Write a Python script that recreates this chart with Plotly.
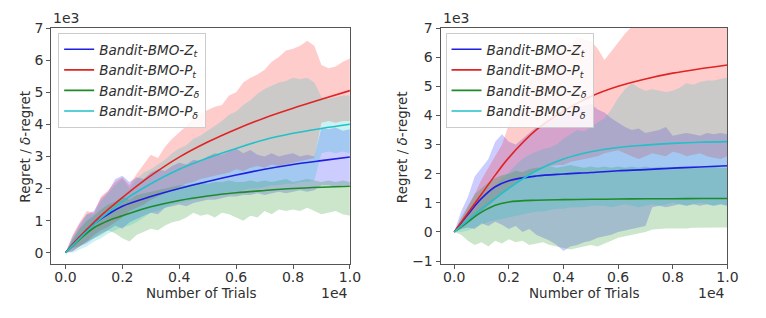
import plotly.graph_objects as go

# x in units of 1e4 trials, y in units of 1e3 regret (as displayed)
MEAN_X = [0.0, 0.05, 0.1, 0.15, 0.2, 0.3, 0.4, 0.5, 0.6, 0.7, 0.8, 0.9, 1.0]
BAND_X = [0.0, 0.025, 0.05, 0.075, 0.1, 0.125, 0.15, 0.175, 0.2, 0.225, 0.25, 0.275, 0.3, 0.325,
          0.35, 0.375, 0.4, 0.425, 0.45, 0.475, 0.5, 0.525, 0.55, 0.575, 0.6, 0.625, 0.65, 0.675,
          0.7, 0.725, 0.75, 0.775, 0.8, 0.825, 0.85, 0.875, 0.9, 0.925, 0.95, 0.975, 1.0]

SERIES_NAMES = ["<i>Bandit-BMO-Z<sub>t</sub></i>", "<i>Bandit-BMO-P<sub>t</sub></i>",
                "<i>Bandit-BMO-Z<sub>δ</sub></i>", "<i>Bandit-BMO-P<sub>δ</sub></i>"]
LINE_COLORS = ["#1f1fe0", "#e02424", "#1f8a2a", "#22c0c8"]
FILL_COLORS = ["rgba(0,0,255,0.2)", "rgba(255,0,0,0.2)", "rgba(0,128,0,0.2)", "rgba(0,191,191,0.2)"]

X_TICKS = [0.0, 0.2, 0.4, 0.6, 0.8, 1.0]
X_TICK_LABELS = ["0.0", "0.2", "0.4", "0.6", "0.8", "1.0"]
Y_TICKS_LEFT = [0, 1, 2, 3, 4, 5, 6, 7]
Y_TICKS_RIGHT = [-1, 0, 1, 2, 3, 4, 5, 6, 7]

# ---------------- left panel ----------------
L_BLUE_MEAN = [0, 0.5, 0.9, 1.2, 1.45, 1.75, 2.0, 2.22, 2.42, 2.6, 2.75, 2.87, 2.98]
L_RED_MEAN = [0, 0.5, 0.95, 1.35, 1.72, 2.4, 2.98, 3.45, 3.85, 4.2, 4.5, 4.78, 5.05]
L_GREEN_MEAN = [0, 0.42, 0.78, 1.0, 1.15, 1.43, 1.63, 1.77, 1.87, 1.94, 2.0, 2.04, 2.07]
L_CYAN_MEAN = [0, 0.45, 0.88, 1.25, 1.6, 2.15, 2.6, 2.95, 3.25, 3.52, 3.72, 3.87, 4.0]

L_BLUE_HI = [0, 0.5, 0.9, 1.2, 1.3, 1.7, 1.9, 2.3, 2.4, 2.2, 2.35, 2.3, 2.5, 2.6, 2.55, 2.7, 2.8, 2.75,
             2.9, 2.85, 3.0, 3.1, 3.05, 3.15, 3.25, 3.1, 3.2, 3.05, 3.0, 3.1, 3.0, 3.05, 3.1, 3.0, 3.05,
             3.0, 3.9, 3.85, 3.9, 3.8, 3.85]
L_BLUE_LO = [0, 0.05, 0.2, 0.3, 0.45, 0.6, 0.7, 0.85, 0.75, 0.95, 1.05, 1.15, 1.25, 1.2, 1.4, 1.45, 1.5,
             1.45, 1.55, 1.6, 1.65, 1.65, 1.7, 1.75, 1.75, 1.8, 1.8, 1.85, 1.8, 1.85, 1.9, 1.85, 1.9,
             1.95, 1.9, 1.95, 2.1, 2.1, 2.05, 2.1, 2.1]
L_RED_HI = [0, 0.55, 0.95, 1.3, 1.25, 1.75, 1.95, 2.2, 2.35, 2.1, 2.45, 2.75, 3.05, 2.95, 3.3, 3.55, 3.75,
            3.95, 4.2, 4.35, 4.45, 4.55, 4.6, 4.9, 5.0, 5.3, 5.45, 5.55, 5.7, 5.95, 6.1, 6.3, 6.35, 6.45,
            6.6, 6.45, 5.85, 5.75, 5.8, 5.95, 6.05]
L_RED_LO = [0, 0.05, 0.2, 0.35, 0.55, 0.7, 0.8, 0.95, 1.1, 1.3, 1.4, 1.5, 1.65, 1.75, 1.85, 1.95, 2.05,
            2.15, 2.2, 2.3, 2.35, 2.4, 2.45, 2.5, 2.6, 2.55, 2.65, 2.7, 2.65, 2.75, 2.7, 2.75, 2.8, 2.85,
            2.9, 2.95, 4.05, 4.1, 4.05, 4.1, 4.1]
L_GREEN_HI = [0, 0.4, 0.75, 1.0, 1.15, 1.35, 1.5, 1.6, 1.75, 1.65, 1.8, 1.85, 1.9, 1.95, 2.0, 2.05, 2.1,
              2.1, 2.15, 2.2, 2.15, 2.2, 2.2, 2.25, 2.2, 2.2, 2.25, 2.2, 2.25, 2.2, 2.25, 2.3, 2.2, 2.25,
              2.3, 2.25, 2.2, 2.25, 2.2, 2.25, 2.2]
L_GREEN_LO = [0, 0.15, 0.2, 0.35, 0.45, 0.55, 0.7, 0.6, 0.45, 0.35, 0.55, 0.65, 0.75, 0.7, 0.85, 0.95,
              1.0, 1.1, 1.25, 1.15, 1.2, 1.1, 1.25, 1.2, 1.1, 1.0, 1.15, 1.1, 1.3, 1.2, 1.35, 1.3, 1.35,
              1.3, 1.4, 1.3, 1.2, 1.25, 1.3, 1.2, 1.15]
L_CYAN_HI = [0, 0.45, 0.8, 1.2, 1.2, 1.6, 1.85, 2.1, 2.3, 2.0, 2.3, 2.5, 2.6, 2.75, 2.9, 3.1, 3.25, 3.35,
             3.55, 3.65, 3.8, 3.95, 4.1, 4.3, 4.4, 4.6, 4.75, 4.95, 5.1, 5.2, 5.3, 5.35, 5.45, 5.4, 5.45,
             5.3, 4.85, 4.8, 4.85, 4.9, 4.9]
L_CYAN_LO = [0, 0.0, 0.1, 0.2, 0.35, 0.45, 0.6, 0.7, 0.8, 0.85, 0.95, 1.1, 1.25, 1.3, 1.4, 1.5, 1.55,
             1.6, 1.65, 1.7, 1.75, 1.8, 1.85, 1.9, 1.9, 1.95, 2.0, 2.0, 2.05, 2.1, 2.1, 2.15, 2.15, 2.2,
             2.2, 2.25, 3.1, 3.15, 3.1, 3.15, 3.1]

# ---------------- right panel ----------------
R_BLUE_MEAN = [0, 0.6, 1.15, 1.55, 1.76, 1.92, 1.99, 2.04, 2.1, 2.14, 2.19, 2.23, 2.27]
R_RED_MEAN = [0, 0.65, 1.3, 1.95, 2.55, 3.5, 4.15, 4.65, 5.0, 5.25, 5.45, 5.6, 5.73]
R_GREEN_MEAN = [0, 0.35, 0.68, 0.92, 1.03, 1.09, 1.11, 1.12, 1.13, 1.14, 1.14, 1.15, 1.15]
R_CYAN_MEAN = [0, 0.4, 0.8, 1.15, 1.5, 2.1, 2.5, 2.75, 2.9, 2.98, 3.04, 3.08, 3.1]

R_BLUE_HI = [0, 0.7, 1.2, 1.9, 2.2, 2.5, 3.1, 3.35, 3.1, 3.0, 3.2, 3.4, 3.6, 3.7, 3.85, 3.9, 4.0, 4.1,
             4.3, 4.35, 4.4, 4.2, 4.1, 3.9, 3.75, 3.6, 3.5, 3.55, 3.4, 3.45, 3.5, 3.6, 3.3, 3.35, 3.4,
             3.35, 3.3, 3.4, 3.35, 3.4, 3.35]
R_BLUE_LO = [0, 0.1, 0.15, 0.1, 0.3, 0.2, 0.35, 0.25, 0.1, 0.2, 0.0, 0.1, -0.1, -0.2, -0.3, -0.45, -0.65,
             -0.5, -0.45, -0.35, -0.3, -0.2, -0.15, -0.1, 0.0, 0.05, 0.1, 0.15, 0.2, 0.85, 0.9, 0.85,
             0.9, 0.95, 0.9, 0.95, 0.9, 0.95, 0.9, 0.95, 0.9]
R_RED_HI = [0, 0.4, 0.85, 1.3, 1.8, 2.2, 2.6, 3.0, 3.7, 4.2, 4.7, 5.1, 5.5, 5.9, 6.1, 6.3, 6.5, 6.4, 6.7,
            6.6, 6.55, 6.3, 5.9, 6.2, 6.5, 6.8, 7.05, 7.2, 7.4, 7.5, 7.6, 7.7, 7.8, 7.9, 7.95, 8.0, 8.1,
            8.1, 8.2, 8.2, 8.3]
R_RED_LO = [0, 0.1, 0.3, 0.5, 0.7, 0.9, 1.1, 1.3, 1.5, 1.7, 1.85, 1.95, 2.1, 2.2, 2.25, 2.3, 2.3, 2.4,
            2.45, 2.5, 2.55, 2.6, 2.7, 2.75, 2.8, 2.7, 2.6, 2.5, 2.6, 2.7, 2.65, 2.6, 2.75, 2.7, 2.6,
            2.65, 2.7, 2.6, 2.55, 2.5, 2.6]
R_GREEN_HI = [0, 0.5, 0.9, 1.3, 1.5, 1.7, 1.85, 1.95, 2.0, 2.1, 2.05, 2.15, 2.2, 2.2, 2.25, 2.2, 2.25,
              2.3, 2.25, 2.2, 2.25, 2.2, 2.25, 2.2, 2.25, 2.2, 2.25, 2.2, 2.25, 2.2, 2.25, 2.2, 2.2,
              2.25, 2.2, 2.25, 2.2, 2.2, 2.25, 2.2, 2.2]
R_GREEN_LO = [0, -0.1, -0.3, -0.45, -0.35, -0.5, -0.3, -0.4, -0.25, -0.35, -0.3, -0.45, -0.4, -0.35,
              -0.45, -0.5, -0.55, -0.6, -0.55, -0.5, -0.45, -0.5, -0.4, -0.3, -0.2, -0.15, -0.1, -0.05,
              0.0, 0.08, 0.1, 0.12, 0.12, 0.13, 0.12, 0.14, 0.13, 0.14, 0.15, 0.15, 0.15]
R_CYAN_HI = [0, 0.3, 0.55, 0.8, 1.1, 1.35, 1.6, 1.85, 2.05, 2.3, 2.5, 2.65, 2.75, 2.85, 2.9, 3.0, 3.2,
             3.35, 3.5, 3.45, 3.6, 3.75, 3.9, 4.2, 4.6, 4.9, 5.1, 4.95, 4.85, 4.9, 4.85, 4.8, 4.85, 4.95,
             5.1, 5.05, 5.15, 5.2, 5.2, 5.25, 5.3]
R_CYAN_LO = [0, 0.0, 0.05, 0.15, 0.25, 0.35, 0.4, 0.45, 0.5, 0.55, 0.6, 0.65, 0.7, 0.7, 0.75, 0.8, 0.8,
             0.85, 0.85, 0.85, 0.9, 0.9, 0.9, 0.85, 0.9, 0.95, 0.9, 0.85, 0.9, 0.95, 0.9, 0.95, 1.0,
             0.95, 0.9, 0.95, 1.0, 0.95, 0.9, 0.95, 0.9]

PANELS = [
    dict(xaxis="x", yaxis="y", legend="legend",
         means=[L_BLUE_MEAN, L_RED_MEAN, L_GREEN_MEAN, L_CYAN_MEAN],
         his=[L_BLUE_HI, L_RED_HI, L_GREEN_HI, L_CYAN_HI],
         los=[L_BLUE_LO, L_RED_LO, L_GREEN_LO, L_CYAN_LO]),
    dict(xaxis="x2", yaxis="y2", legend="legend2",
         means=[R_BLUE_MEAN, R_RED_MEAN, R_GREEN_MEAN, R_CYAN_MEAN],
         his=[R_BLUE_HI, R_RED_HI, R_GREEN_HI, R_CYAN_HI],
         los=[R_BLUE_LO, R_RED_LO, R_GREEN_LO, R_CYAN_LO]),
]

FONT = "DejaVu Sans"
TXT = "#303030"
AX = "#555555"

fig = go.Figure()
for p in PANELS:
    for i in range(4):
        fig.add_trace(go.Scatter(
            x=BAND_X + BAND_X[::-1], y=p["his"][i] + p["los"][i][::-1],
            fill="toself", fillcolor=FILL_COLORS[i], line=dict(width=0),
            mode="lines", showlegend=False, hoverinfo="skip",
            xaxis=p["xaxis"], yaxis=p["yaxis"]))
    for i in range(4):
        fig.add_trace(go.Scatter(
            x=MEAN_X, y=p["means"][i], mode="lines", name=SERIES_NAMES[i],
            line=dict(color=LINE_COLORS[i], width=1.6, shape="spline"),
            xaxis=p["xaxis"], yaxis=p["yaxis"], legend=p["legend"]))

W, H = 766, 318
T, B = 28, 54
PH = H - T - B


def px_x(v):
    return v / W


def px_y(v):
    return (H - B - v) / PH


axis_common = dict(showgrid=False, zeroline=False, showline=True, mirror=True, linecolor=AX,
                   linewidth=1, ticks="outside", ticklen=4, tickcolor=AX, tickwidth=1,
                   tickfont=dict(family=FONT, size=14, color=TXT))
x_extra = dict(ticklabelstandoff=-4)

L_DOM = [px_x(52), px_x(355)]
R_DOM = [px_x(447), px_x(738)]

legend_common = dict(bgcolor="rgba(255,255,255,0.85)", bordercolor="#cccccc", borderwidth=1,
                     font=dict(family=FONT, size=13.5, color=TXT), itemwidth=30,
                     xanchor="left", yanchor="top", tracegroupgap=0)

fig.update_layout(
    width=W, height=H, margin=dict(l=0, r=0, t=T, b=B),
    paper_bgcolor="white", plot_bgcolor="white",
    font=dict(family=FONT, size=13, color=TXT),
    xaxis=dict(domain=L_DOM, range=[-0.05, 1.0], tickvals=X_TICKS, ticktext=X_TICK_LABELS,
               anchor="y", **axis_common, **x_extra),
    yaxis=dict(domain=[0, 1], range=[-0.35, 7], tickvals=Y_TICKS_LEFT, anchor="x", **axis_common),
    xaxis2=dict(domain=R_DOM, range=[-0.05, 1.0], tickvals=X_TICKS, ticktext=X_TICK_LABELS,
                anchor="y2", **axis_common, **x_extra),
    yaxis2=dict(domain=[0, 1], range=[-1.1, 7], tickvals=Y_TICKS_RIGHT, anchor="x2", **axis_common),
    legend=dict(x=px_x(59), y=px_y(33), **legend_common),
    legend2=dict(x=px_x(452), y=px_y(33), **legend_common),
    showlegend=True,
)

annots = []
for dom, ytx in [(L_DOM, 25), (R_DOM, 408)]:
    annots.append(dict(text="1e3", xref="paper", yref="paper", x=dom[0], y=1, xanchor="left",
                       yanchor="bottom", showarrow=False, font=dict(family=FONT, size=14, color=TXT)))
    annots.append(dict(text="1e4", xref="paper", yref="paper", x=dom[1], y=px_y(293),
                       xanchor="right", yanchor="middle", showarrow=False,
                       font=dict(family=FONT, size=14, color=TXT)))
    annots.append(dict(text="Number of Trials", xref="paper", yref="paper", x=(dom[0] + dom[1]) / 2,
                       y=px_y(293), xanchor="center", yanchor="middle", showarrow=False,
                       font=dict(family=FONT, size=13.5, color=TXT)))
    annots.append(dict(text="Regret / <i>δ</i>-regret", xref="paper", yref="paper", x=px_x(ytx),
                       y=px_y(147), xanchor="center", yanchor="middle", textangle=-90,
                       showarrow=False, font=dict(family=FONT, size=13.5, color=TXT)))
fig.update_layout(annotations=annots)

fig.write_html("out.html", config={"displayModeBar": False},
               post_script="document.body.style.margin='0';document.body.style.overflow='hidden';")
